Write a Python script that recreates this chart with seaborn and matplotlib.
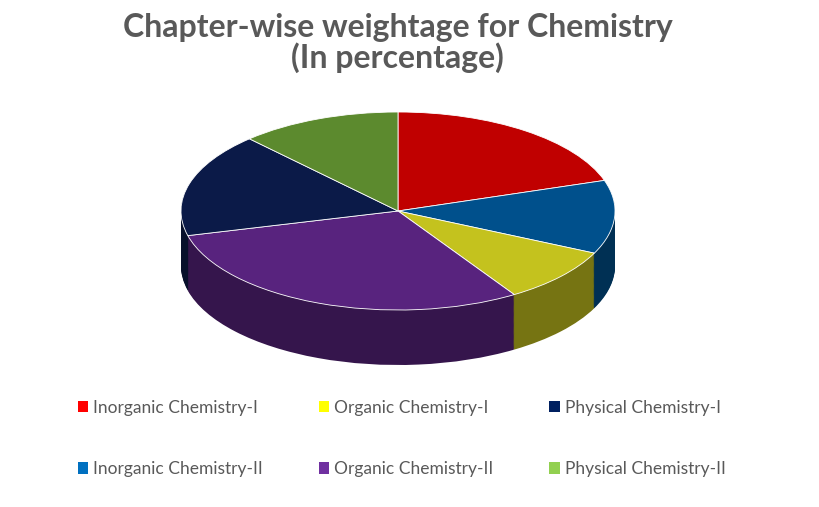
import matplotlib.pyplot as plt
import matplotlib.colors as mcolors
from matplotlib.patches import Patch
import numpy as np
import seaborn as sns

chapters = ['Inorganic Chemistry-I', 'Inorganic Chemistry-II', 'Organic Chemistry-I',
            'Organic Chemistry-II', 'Physical Chemistry-I', 'Physical Chemistry-II']
weightage = [20, 12, 9, 30, 17, 12]
pie_colors = ['#C00000', '#00508C', '#C4C21E', '#58237E', '#0B1A48', '#5C8A2E']
legend_colors = ['#FF0000', '#0070C0', '#FFFF00', '#7030A0', '#002060', '#92D050']

sns.set_theme(style="white")
plt.rcParams['font.family'] = ['Lato', 'DejaVu Sans']

fig = plt.figure(figsize=(8.2, 5.07), dpi=100)
ax = fig.add_axes([0, 0, 1, 1])

# pixel-like coordinates, y squashed to tilt the pie
cx, cy_px, rx = 398, 211, 217
s = 99 / 217
depth = 55

side_colors = [mcolors.to_hex(np.array(mcolors.to_rgb(c)) * 0.6) for c in pie_colors]
n_layers = 60
for k in range(n_layers, 0, -1):
    off = depth * k / n_layers / s
    ax.pie(weightage, colors=side_colors, radius=rx, center=(cx, -off),
           startangle=90, counterclock=False, frame=True,
           wedgeprops=dict(linewidth=0))
ax.pie(weightage, colors=pie_colors, radius=rx, center=(cx, 0),
       startangle=90, counterclock=False, frame=True,
       wedgeprops=dict(linewidth=0.6, edgecolor='white'))

ax.set_aspect('auto')
ax.set_xlim(0, 820)
ax.set_ylim(-(507 - cy_px) / s, cy_px / s)
ax.axis('off')

fig.text(0.485, 0.915, 'Chapter-wise weightage for Chemistry\n(In percentage)',
         ha='center', va='center', fontsize=23, fontweight='bold',
         color='#595959', linespacing=1.0)

handles = [Patch(facecolor=c, edgecolor='none') for c in legend_colors]
fig.legend(handles, chapters, ncol=3, loc='center', bbox_to_anchor=(0.49, 0.135),
           frameon=False, fontsize=12.5, labelcolor='#595959',
           handlelength=0.6, handleheight=0.6, handletextpad=0.3,
           columnspacing=3.2, labelspacing=2.6)

plt.savefig('out.png', dpi=100)
